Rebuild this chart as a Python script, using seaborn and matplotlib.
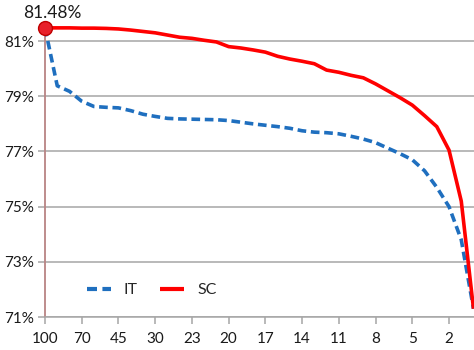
import matplotlib
matplotlib.use("Agg")
import matplotlib.pyplot as plt
import seaborn as sns
import pandas as pd

# ---- data ----
categories = ["100", "90", "80", "70", "60", "50", "45", "40", "35", "30", "27", "25",
              "23", "22", "21", "20", "19", "18", "17", "16", "15", "14", "13", "12",
              "11", "10", "9", "8", "7", "6", "5", "4", "3", "2", "1", "0.5"]
it_values = [81.48, 79.38, 79.18, 78.82, 78.63, 78.60, 78.58, 78.48, 78.35, 78.27, 78.20, 78.18,
             78.17, 78.16, 78.15, 78.12, 78.06, 78.00, 77.95, 77.90, 77.84, 77.75, 77.70, 77.68,
             77.64, 77.55, 77.45, 77.32, 77.12, 76.92, 76.70, 76.30, 75.70, 75.00, 73.80, 71.30]
sc_values = [81.48, 81.48, 81.48, 81.47, 81.47, 81.46, 81.44, 81.40, 81.35, 81.30, 81.22, 81.14,
             81.10, 81.03, 80.97, 80.80, 80.75, 80.68, 80.60, 80.45, 80.35, 80.27, 80.18, 79.95,
             79.87, 79.76, 79.67, 79.45, 79.20, 78.95, 78.68, 78.30, 77.90, 77.05, 75.20, 71.30]
series_names = ["IT", "SC"]
y_ticks = [71, 73, 75, 77, 79, 81]
peak_label = "81.48%"

n = len(categories)
df = pd.DataFrame({
    "pos": list(range(n)) * 2,
    "value": it_values + sc_values,
    "series": [series_names[0]] * n + [series_names[1]] * n,
})

sns.set_style("white")
plt.rcParams["font.family"] = ["Lato", "DejaVu Sans"]

W, H, DPI = 474, 350, 100
fig = plt.figure(figsize=(W / DPI, H / DPI), dpi=DPI)
ax = fig.add_axes([45 / W, 33 / H, 428.5 / W, 317 / H])

blue = "#1F6FBF"
red = "#FF0000"
grid_c = "#A6A6A6"

for gv in y_ticks:
    ax.axhline(gv, color=grid_c, lw=1.1, zorder=0)

sns.lineplot(data=df, x="pos", y="value", hue="series", style="series",
             palette={series_names[0]: blue, series_names[1]: red},
             dashes={series_names[0]: (2.4, 1.3), series_names[1]: ""},
             linewidth=2.6, ax=ax, legend=True, zorder=3)
for ln in ax.get_lines():
    ln.set_solid_capstyle("butt")
    ln.set_dash_capstyle("butt")

ax.set_xlim(0, n - 1)
ax.set_ylim(71, 82.49)

# drop line from peak point
ax.vlines(0, 71, sc_values[0], color="#B98484", lw=1.3, zorder=2, clip_on=False)
ax.plot([0], [sc_values[0]], marker="o", ms=10, color="#E8202A",
        markeredgecolor="#C00000", mew=1, zorder=5, clip_on=False)
ax.annotate(peak_label, (0, sc_values[0]), xytext=(5, 5), textcoords="offset points",
            ha="center", va="bottom", fontsize=12.5, color="#1a1a1a")

ax.set_yticks(y_ticks)
ax.set_yticklabels([f"{v}%" for v in y_ticks])
ax.set_xticks(list(range(0, n, 3)))
ax.set_xticklabels(categories[::3])
ax.set_xlabel("")
ax.set_ylabel("")

for s in ["top", "right", "left"]:
    ax.spines[s].set_visible(False)
ax.spines["bottom"].set_color(grid_c)
ax.spines["bottom"].set_linewidth(1.1)
ax.tick_params(axis="x", length=5, width=1.1, color=grid_c, labelsize=11, pad=6,
               labelcolor="#1a1a1a", bottom=True)
ax.tick_params(axis="y", length=5, width=1.1, color=grid_c, labelsize=11, pad=3,
               labelcolor="#1a1a1a", left=True)

leg = ax.legend(loc="center left", bbox_to_anchor=(0.065, 0.085), ncol=2, frameon=False,
                fontsize=11.5, handlelength=1.5, handletextpad=0.8, columnspacing=1.4)
for h in leg.get_lines():
    h.set_linewidth(3)

fig.savefig("out.png", dpi=DPI)
